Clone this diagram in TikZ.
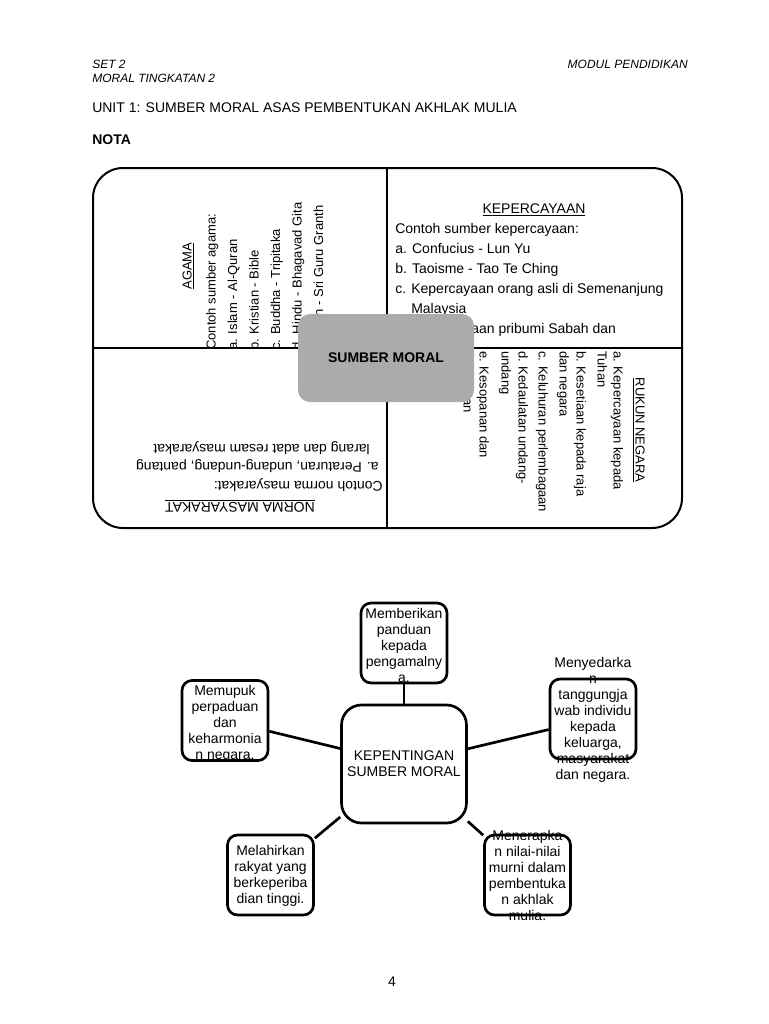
\documentclass[tikz,border=0pt]{standalone}
\usepackage{fontspec}
\setmainfont{Liberation Sans}
\usepackage{tikz}
\usetikzlibrary{positioning}

\definecolor{grisCaja}{RGB}{171,171,171}

\begin{document}
\begin{tikzpicture}[x = 0.75pt, y = -0.75pt,
    linea/.style = {inner sep = 0pt, font = \fontsize{10.5}{12}\selectfont},
    girada/.style = {inner sep = 0pt, font = \fontsize{9.75}{11}\selectfont},
    caja/.style = {draw, line width = 2pt, rounded corners = 7.5pt, minimum width = 64.5pt, minimum height = 60pt, inner sep = 0pt},
    textocaja/.style = {align = center, inner sep = 0pt, font = \fontsize{10.5}{12}\selectfont}]
    \useasboundingbox (0, 0) rectangle (768, 1024);

    % Encabezado de la hoja.
    \node[inner sep = 0pt, anchor = base west, font = \itshape\fontsize{9}{10}\selectfont] (set) at (92, 69) {SET 2};
    \node[inner sep = 0pt, anchor = base west, font = \itshape\fontsize{9}{10}\selectfont] (tingkatan) at (92, 83) {MORAL TINGKATAN 2};
    \node[inner sep = 0pt, anchor = base east, font = \itshape\fontsize{9}{10}\selectfont] (modul) at (688, 69) {MODUL PENDIDIKAN};
    \node[linea, anchor = base west] (unit) at (92, 113) {UNIT 1: SUMBER MORAL ASAS PEMBENTUKAN AKHLAK MULIA};
    \node[linea, anchor = base west, font = \bfseries\fontsize{10.5}{12}\selectfont] (nota) at (92, 144) {NOTA};

    % Cuadrante de arriba a la izquierda (texto girado 90 grados).
    \begin{scope}
        \clip (93, 168) rectangle (387, 348);
        \node[girada, rotate = 90, anchor = base] (agama) at (191.5, 266) {\underline{AGAMA}};
        \foreach \t [count = \i] in {{Contoh sumber agama:}, {a. Islam - Al-Quran}, {b. Kristian - Bible}, {c. Buddha - Tripitaka}, {d. Hindu - Bhagavad Gita}, {e. Sikh - Sri Guru Granth}}
            \node[girada, rotate = 90, anchor = base west] (ag\i) at ({215.5 + 21.5*(\i - 1)}, 350) {\t};
    \end{scope}

    % Cuadrante de arriba a la derecha.
    \begin{scope}
        \clip (387, 168) rectangle (682, 347);
        \node[linea, anchor = base] (kep) at (534, 213.5) {\underline{KEPERCAYAAN}};
        \node[linea, anchor = base west] (kep1) at (395, 233) {Contoh sumber kepercayaan:};
        \node[linea, anchor = base west] (kep2) at (395, 253) {a. Confucius - Lun Yu};
        \node[linea, anchor = base west] (kep3) at (395, 273) {b. Taoisme - Tao Te Ching};
        \node[linea, anchor = base west] (kep4) at (395, 293) {c. Kepercayaan orang asli di Semenanjung};
        \node[linea, anchor = base west] (kep5) at (411, 313) {Malaysia};
        \node[linea, anchor = base west] (kep6) at (395, 333) {d. Kepercayaan pribumi Sabah dan};
    \end{scope}

    % Cuadrante de abajo a la izquierda (texto al reves).
    \begin{scope}
        \clip (93, 348) rectangle (387, 528);
        \node[linea, rotate = 180, anchor = base] (norma) at (240, 502) {\underline{NORMA MASYARAKAT}};
        \node[linea, rotate = 180, anchor = base west] (norma1) at (383, 481) {Contoh norma masyarakat:};
        \node[linea, rotate = 180, anchor = base west] (norma2) at (379, 462.5) {a. Peraturan, undang-undang, pantang};
        \node[linea, rotate = 180, anchor = base west] (norma3) at (370, 444.5) {larang dan adat resam masyarakat};
    \end{scope}

    % Cuadrante de abajo a la derecha (texto girado -90 grados).
    \begin{scope}
        \clip (387, 349) rectangle (682, 528);
        \node[girada, rotate = -90, anchor = base] (rukun) at (635.5, 430) {\underline{RUKUN NEGARA}};
        \node[girada, rotate = -90, anchor = base west] (rk1) at (613.5, 351) {a. Kepercayaan kepada};
        \node[girada, rotate = -90, anchor = base west] (rk2) at (597.5, 351) {Tuhan};
        \node[girada, rotate = -90, anchor = base west] (rk3) at (576.5, 351) {b. Kesetiaan kepada raja};
        \node[girada, rotate = -90, anchor = base west] (rk4) at (559.5, 351) {dan negara};
        \node[girada, rotate = -90, anchor = base west] (rk5) at (538.5, 351) {c. Keluhuran perlembagaan};
        \node[girada, rotate = -90, anchor = base west] (rk6) at (518.5, 351) {d. Kedaulatan undang-};
        \node[girada, rotate = -90, anchor = base west] (rk7) at (501.5, 351) {undang};
        \node[girada, rotate = -90, anchor = base west] (rk8) at (479.5, 351) {e. Kesopanan dan};
        \node[girada, rotate = -90, anchor = base west] (rk9) at (463.5, 351) {kesusilaan};
    \end{scope}

    % Marco exterior y divisiones.
    \draw[line width = 1.5pt, rounded corners = 22.5pt] (93, 168) rectangle (682, 528);
    \draw[line width = 1.5pt] (387, 168) -- (387, 528);
    \draw[line width = 1.5pt] (93, 348) -- (682, 348);

    % Caja gris del centro.
    \node[fill = grisCaja, rounded corners = 9pt, minimum width = 132pt, minimum height = 66pt, font = \bfseries\fontsize{10.5}{12}\selectfont] (sumber) at (386, 358) {SUMBER MORAL};

    % Mapa de la importancia.
    \node[caja, rounded corners = 15pt, minimum width = 93.75pt, minimum height = 88.5pt] (centro) at (404, 764) {};
    \node[textocaja] (tCentro) at (centro) {KEPENTINGAN\\SUMBER MORAL};

    \node[caja] (bTop) at (404, 643) {};
    \node[caja] (bIzq) at (225, 720.5) {};
    \node[caja] (bDer) at (593, 719) {};
    \node[caja] (bAbIzq) at (270.5, 875) {};
    \node[caja] (bAbDer) at (527.5, 875) {};

    \draw[line width = 2pt] (centro) -- (bTop);
    \draw[line width = 2pt] (centro) -- (bIzq);
    \draw[line width = 2pt] (centro) -- (bDer);
    \draw[line width = 2pt] (centro) -- (bAbIzq);
    \draw[line width = 2pt] (centro) -- (bAbDer);

    \node[textocaja] (tTop) at ([yshift = -1.5pt]bTop.center) {Memberikan\\panduan\\kepada\\pengamalny\\a.};
    \node[textocaja] (tIzq) at ([yshift = -2.5pt]bIzq.center) {Memupuk\\perpaduan\\dan\\keharmonia\\n negara.};
    \node[textocaja] (tDer) at ([yshift = -0.5pt]bDer.center) {Menyedarka\\n\\tanggungja\\wab individu\\kepada\\keluarga,\\masyarakat\\dan negara.};
    \node[textocaja] (tAbIzq) at ([yshift = -0.5pt]bAbIzq.center) {Melahirkan\\rakyat yang\\berkeperiba\\dian tinggi.};
    \node[textocaja] (tAbDer) at ([yshift = -0.5pt]bAbDer.center) {Menerapka\\n nilai-nilai\\murni dalam\\pembentuka\\n akhlak\\mulia.};

    % Numero de pagina.
    \node[linea, anchor = base] (pagina) at (392, 986) {4};
\end{tikzpicture}
\end{document}
